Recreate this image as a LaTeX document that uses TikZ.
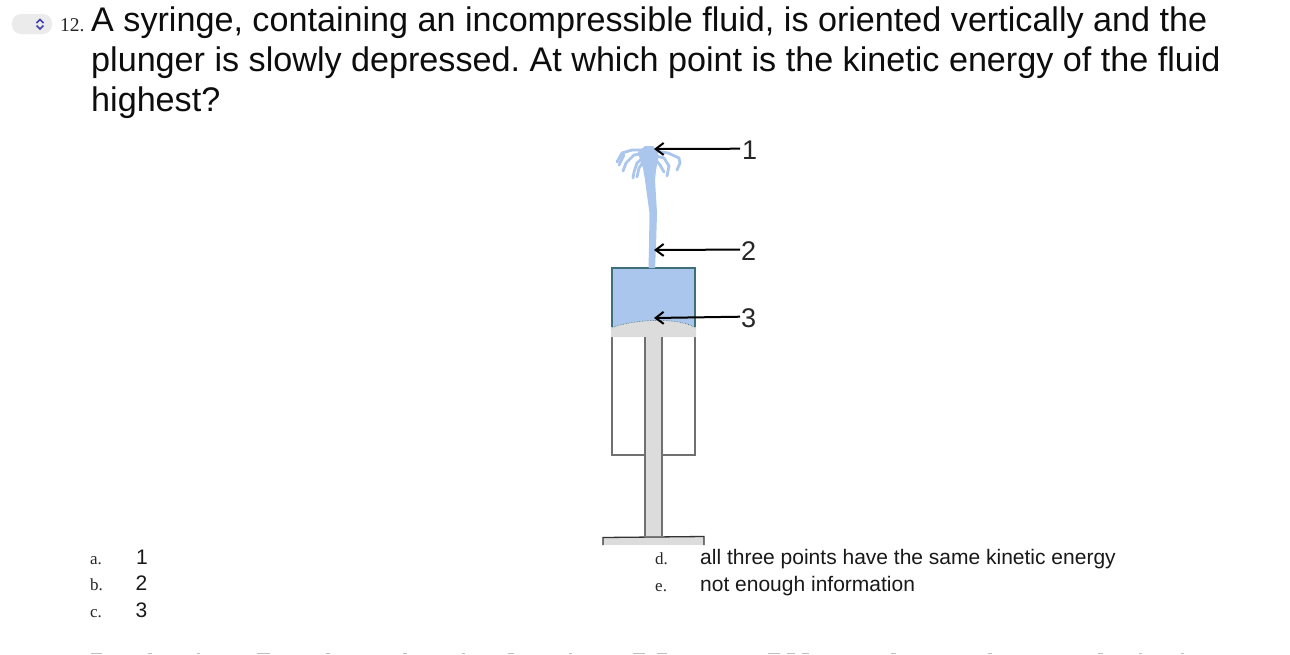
\documentclass[tikz,border=0pt]{standalone}
\usepackage{fontspec}
\setmainfont{Liberation Sans}
\newfontfamily\serifx{Liberation Serif}
\usetikzlibrary{arrows.meta}
\definecolor{fluid}{HTML}{ABC6EC}
\definecolor{plug}{HTML}{DCDCDC}
\definecolor{edgeg}{HTML}{707070}
\definecolor{rim}{HTML}{3F6F78}
\tikzset{
  question/.style={anchor=base west,inner sep=0,font=\fontsize{34.15}{36}\selectfont,text=black!95},
  optserif/.style={anchor=base west,inner sep=0,font=\serifx\fontsize{17}{20}\selectfont,text=black!85},
  optsans/.style={anchor=base west,inner sep=0,font=\fontsize{21}{24}\selectfont,text=black!90},
  figlabel/.style={anchor=base west,inner sep=0,font=\fontsize{27}{30}\selectfont,text=black!85},
  pointer/.style={draw=black,line width=2pt,-{Straight Barb[length=8pt,width=12pt,line width=2pt]}},
  wall/.style={draw=edgeg,line width=1.4pt},
  spray/.style={draw=fluid,line width=2.8pt,line cap=round,line join=round},
  cutoff/.style={draw=black!25,line width=1.2pt}
}
\begin{document}
\frenchspacing
\begin{tikzpicture}[x=1pt,y=-1pt]
\useasboundingbox (0,0) rectangle (1290,654);
\fill[white] (0,0) rectangle (1290,654);
% top control
\fill[black!8,rounded corners=9pt] (12,14) rectangle (52,34);
\draw[blue!55!black!75,line width=1.6pt] (36.5,23) -- (40,19.5) -- (43.5,23) (36.5,25.5) -- (40,29) -- (43.5,25.5);
\node[optserif,font=\serifx\fontsize{19.5}{24}\selectfont] (num) at (60,31) {12.};
\node[question] (l1) at (91,31) {A syringe, containing an incompressible fluid, is oriented vertically and the};
\node[question] (l2) at (91,71) {plunger is slowly depressed. At which point is the kinetic energy of the fluid};
\node[question] (l3) at (91,111) {highest?};
% syringe
\fill[fluid] (612,268) rectangle (695,328);
\draw[draw=rim,line width=1.1pt] (612,327) -- (612,268) -- (695,268) -- (695,327);
\fill[white] (612,336) rectangle (695,455);
\draw[wall] (612,335) -- (612,455) -- (695,455) -- (695,335);
\fill[plug] (611,328) .. controls (630,320) and (677,316) .. (696,328) -- (696,337) -- (611,337) -- cycle;
\draw[rim,line width=.6pt,densely dotted] (611,328) .. controls (630,320) and (677,316) .. (696,328);
\fill[plug] (645,337) rectangle (662,536);
\draw[wall] (645,337) -- (645,536) (662,337) -- (662,536);
\fill[plug] (603,537) rectangle (704,545);
\draw[black!80,line width=1.3pt] (603,545) -- (603,537.5) -- (704,536.5) -- (704,545);
% fluid
\fill[fluid] (648.5,268) -- (649,247) -- (649.5,213) -- (647,195) -- (645,180) -- (643,168) -- (640,160) -- (638,152) -- (645,146) -- (653,146) -- (658,152) -- (658,160) -- (656,170) -- (655,180) -- (657,213) -- (656,247) -- (655,268) -- cycle;
\draw[spray] (645,150) -- (632,150) -- (622,153) -- (617,162);
\draw[spray] (624,155) -- (619,165);
\draw[spray] (646,153) -- (634,155) -- (626,163) -- (623,171);
\draw[spray] (644,157) -- (637,163) -- (634,172) -- (633,178);
\draw[spray] (643,162) -- (639,168) -- (637,177);
\draw[spray] (656,151) -- (668,153) -- (679,158) -- (680,163) -- (677,170);
\draw[spray] (656,156) -- (664,158) -- (669,166) -- (667,176);
\draw[spray] (656,160) -- (660,165) -- (664,172);
% named points and pointers
\coordinate (p1) at (654,149);
\coordinate (p2) at (654,250);
\coordinate (p3) at (654,318);
\node[figlabel] (n1) at (742,159) {1};
\node[figlabel] (n2) at (741,260) {2};
\node[figlabel] (n3) at (741,327) {3};
\draw[pointer] (n1.west) ++(-2,-1) -- (p1);
\draw[pointer] (n2.west) ++(-1,-1) -- (p2);
\draw[pointer] (n3.west) ++(-1,-1) -- (p3);
% options
\node[optserif] (oa) at (90,564) {a.};
\node[optserif] (ob) at (90,590) {b.};
\node[optserif] (oc) at (90,617) {c.};
\node[optsans] (ta) at (136,564) {1};
\node[optsans] (tb) at (135.5,590) {2};
\node[optsans] (tc) at (135.5,617) {3};
\node[optserif] (od) at (655,564) {d.};
\node[optserif] (oe) at (655,591) {e.};
\node[optsans] (td) at (700,564) {all three points have the same kinetic energy};
\node[optsans] (te) at (700,591) {not enough information};
% ink of the next line, cut off by the lower edge
\foreach \a/\b in {91/102,148/152,197/200,257/270,326/330,403/407,462/465,508/514,569/572,633/645,657/667,768/780,787/795,802/809,891/896,988/992,1098/1103,1139/1142,1181/1184}
  \draw[cutoff] (\a,653.6) -- (\b,653.6);
\end{tikzpicture}
\end{document}
